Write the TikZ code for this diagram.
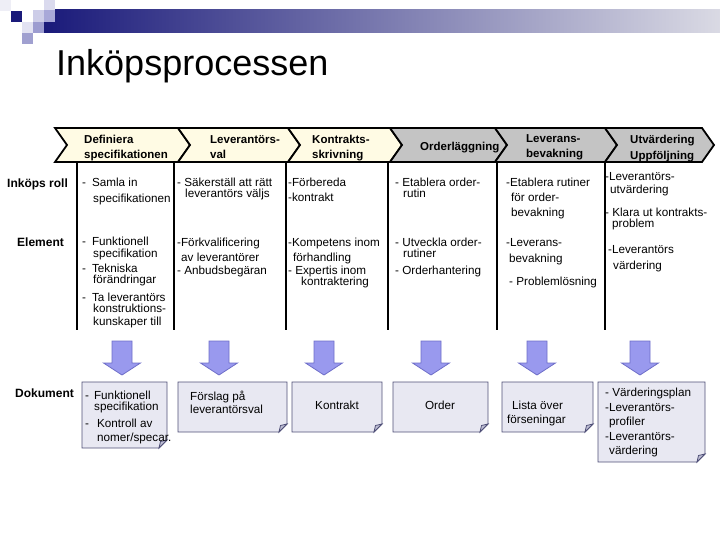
\documentclass[tikz,border=0pt]{standalone}
\usepackage{fontspec}
\setmainfont{Liberation Sans}
\definecolor{navy}{RGB}{26,26,122}
\definecolor{barlight}{RGB}{218,218,228}
\definecolor{cream}{RGB}{255,251,228}
\definecolor{chevgray}{RGB}{196,196,196}
\definecolor{docfill}{RGB}{232,232,242}
\definecolor{docline}{RGB}{80,80,120}
\definecolor{docfold}{RGB}{190,190,212}
\definecolor{arrfill}{RGB}{153,153,238}
\definecolor{arrline}{RGB}{110,110,200}
\newcommand\chevshape[3]{% left, right, fill
  \filldraw[chev,fill=#3] (#1,128) -- (#2,128) -- (#2+12,145) -- (#2,162) -- (#1,162) -- (#1+12,145) -- cycle;}
\newcommand\blockarr[1]{%
  \filldraw[arr] (#1-10,341) -- (#1+10,341) -- (#1+10,363) -- (#1+18.5,363) -- (#1,375) -- (#1-18.5,363) -- (#1-10,363) -- cycle;}
\newcommand\docshape[4]{% x1,y1,x2,y2
  \filldraw[doc] (#1,#2) -- (#3,#2) -- (#3,#4-8) -- (#3-8,#4) -- (#1,#4) -- cycle;
  \filldraw[doc,fill=docfold] (#3,#4-8) -- (#3-6.5,#4-6.5) -- (#3-8,#4) -- cycle;}
\begin{document}
\begin{tikzpicture}[x=1pt,y=-1pt,
  txt/.style={anchor=base west, yshift=-4pt, inner sep=0pt, font=\fontsize{11.7}{14}\selectfont},
  ctxt/.style={anchor=base, yshift=-4pt, inner sep=0pt, font=\fontsize{11.7}{14}\selectfont},
  hdr/.style={anchor=base west, yshift=-4pt, inner sep=0pt, font=\fontsize{11.5}{14}\selectfont\bfseries},
  rowlbl/.style={anchor=base west, yshift=-4pt, inner sep=0pt, font=\fontsize{12}{14}\selectfont\bfseries},
  chev/.style={draw=black, line width=1.8pt, line join=miter},
  vline/.style={draw=black, line width=2.2pt},
  arr/.style={fill=arrfill, draw=arrline, line width=0.8pt},
  doc/.style={fill=docfill, draw=docline, line width=0.8pt}]
\useasboundingbox (0,0) rectangle (720,540);
% top decoration
\shade[left color=navy, right color=barlight] (44,10) rectangle (720,33);
\fill[color={rgb,255:red,238;green,238;blue,246}] (0,0) rectangle (11,11);
\fill[color={rgb,255:red,218;green,218;blue,238}] (44,0) rectangle (55,10);
\fill[navy] (11,11) rectangle (22,22);
\fill[color={rgb,255:red,205;green,205;blue,232}] (33,10) rectangle (44,22);
\fill[color={rgb,255:red,168;green,168;blue,216}] (44,10) rectangle (55,22);
\fill[color={rgb,255:red,226;green,226;blue,242}] (22,22) rectangle (33,33);
\fill[color={rgb,255:red,156;green,156;blue,208}] (33,22) rectangle (44,33);
\fill[color={rgb,255:red,160;green,160;blue,208}] (22,33) rectangle (33,44);
% title
\node[anchor=base west, inner sep=0pt, font=\fontsize{36}{40}\selectfont] (title) at (56,76) {Inköpsprocessen};
% chevrons
\chevshape{55}{178}{cream}
\chevshape{178}{288}{cream}
\chevshape{288}{390}{cream}
\chevshape{390}{495}{chevgray}
\chevshape{495}{605}{chevgray}
\chevshape{605}{702}{chevgray}
\node[hdr] (c1a) at (84,140) {Definiera};
\node[hdr] (c1b) at (84,155) {specifikationen};
\node[hdr] (c2a) at (210,140) {Leverantörs-};
\node[hdr] (c2b) at (210,155) {val};
\node[hdr] (c3a) at (312,140) {Kontrakts-};
\node[hdr] (c3b) at (312,155) {skrivning};
\node[hdr] (c4a) at (420,147) {Orderläggning};
\node[hdr] (c5a) at (526,139) {Leverans-};
\node[hdr] (c5b) at (526,154) {bevakning};
\node[hdr] (c6a) at (630,140) {Utvärdering};
\node[hdr] (c6b) at (630,156) {Uppföljning};
% column lines
\foreach \xx/\nm in {77/l1,174/l2,286/l3,388/l4,497/l5,605/l6}{
  \coordinate (\nm t) at (\xx,162);
  \coordinate (\nm b) at (\xx,330);
  \draw[vline] (\nm t) -- (\nm b);
}
% row labels
\node[rowlbl] (rroll) at (7,184) {Inköps roll};
\node[rowlbl] (relem) at (17,243) {Element};
\node[rowlbl] (rdok) at (15,393) {Dokument};
% column 1
\node[txt] (a1) at (82,183) {-\hspace{6pt}Samla in};
\node[txt] (a2) at (93,199) {specifikationen};
\node[txt] (a3) at (82,241) {-\hspace{6pt}Funktionell};
\node[txt] (a4) at (93,254) {specifikation};
\node[txt] (a5) at (82,268) {-\hspace{6pt}Tekniska};
\node[txt] (a6) at (93,279) {förändringar};
\node[txt] (a7) at (82,297) {-\hspace{6pt}Ta leverantörs};
\node[txt] (a8) at (93,308) {konstruktions-};
\node[txt] (a9) at (93,321) {kunskaper till};
% column 2
\node[txt] (b1) at (177,183) {- Säkerställ att rätt};
\node[txt] (b2) at (185,194) {leverantörs väljs};
\node[txt] (b3) at (177,242) {-Förkvalificering};
\node[txt] (b4) at (181,257) {av leverantörer};
\node[txt] (b5) at (177,270) {- Anbudsbegäran};
% column 3
\node[txt] (d1) at (288,183) {-Förbereda};
\node[txt] (d2) at (288,198) {-kontrakt};
\node[txt] (d3) at (288,242) {-Kompetens inom};
\node[txt] (d4) at (293,257) {förhandling};
\node[txt] (d5) at (288,270) {- Expertis inom};
\node[txt] (d6) at (301,281) {kontraktering};
% column 4
\node[txt] (e1) at (395,183) {- Etablera order-};
\node[txt] (e2) at (403,194) {rutin};
\node[txt] (e3) at (395,242) {- Utveckla order-};
\node[txt] (e4) at (403,254) {rutiner};
\node[txt] (e5) at (395,270) {- Orderhantering};
% column 5
\node[txt] (f1) at (506,183) {-Etablera rutiner};
\node[txt] (f2) at (511,198) {för order-};
\node[txt] (f3) at (511,212) {bevakning};
\node[txt] (f4) at (506,242) {-Leverans-};
\node[txt] (f5) at (509,258) {bevakning};
\node[txt] (f6) at (509,281) {- Problemlösning};
% column 6
\node[txt] (g1) at (605,177) {-Leverantörs-};
\node[txt] (g2) at (610,190) {utvärdering};
\node[txt] (g3) at (605,212) {- Klara ut kontrakts-};
\node[txt] (g4) at (612,224) {problem};
\node[txt] (g5) at (608,250) {-Leverantörs};
\node[txt] (g6) at (613,265) {värdering};
% block arrows
\blockarr{122}
\blockarr{219}
\blockarr{324}
\blockarr{431}
\blockarr{537}
\blockarr{640}
% documents
\docshape{82}{382}{167}{448}
\docshape{178}{382}{287}{432}
\docshape{292}{382}{382}{432}
\docshape{393}{382}{488}{432}
\docshape{502}{382}{593}{432}
\docshape{598}{382}{705}{462}
\node[txt] (h1) at (85,395) {-\hspace{5pt}Funktionell};
\node[txt] (h2) at (94,406) {specifikation};
\node[txt] (h3) at (85,423) {-\hspace{8pt}Kontroll av};
\node[txt] (h4) at (97,437) {nomer/specar.};
\node[txt] (i1) at (190,396) {Förslag på};
\node[txt] (i2) at (190,409) {leverantörsval};
\node[ctxt] (j1) at (337,405) {Kontrakt};
\node[ctxt] (k1) at (440,405) {Order};
\node[txt] (m1) at (512,405) {Lista över};
\node[txt] (m2) at (507,419) {förseningar};
\node[txt] (n1) at (605,392) {- Värderingsplan};
\node[txt] (n2) at (605,407) {-Leverantörs-};
\node[txt] (n3) at (609,421) {profiler};
\node[txt] (n4) at (605,436) {-Leverantörs-};
\node[txt] (n5) at (609,450) {värdering};
\end{tikzpicture}
\end{document}
